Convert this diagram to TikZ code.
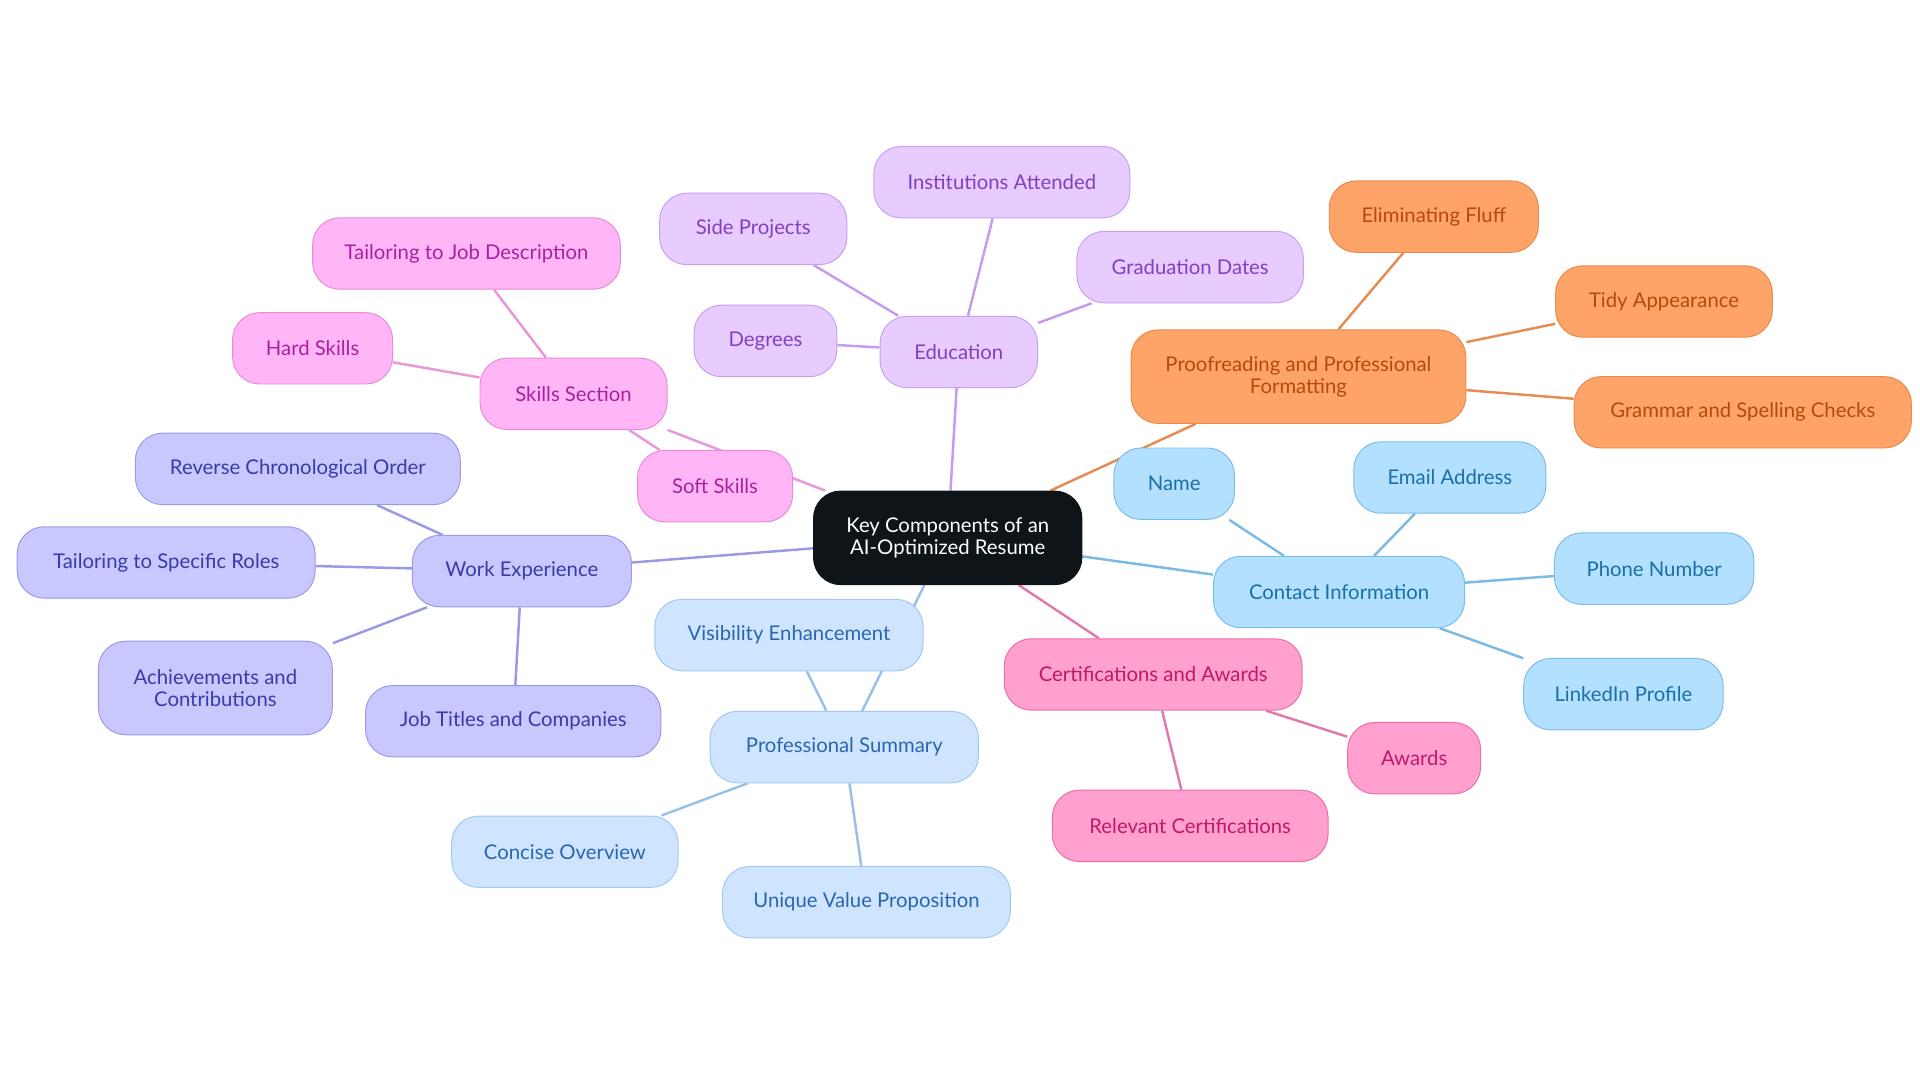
\documentclass[tikz,border=0pt]{standalone}
\usepackage{fontspec}
\setmainfont{Lato}
\usetikzlibrary{backgrounds}
\definecolor{ctrF}{HTML}{0F1419}
\definecolor{orF}{HTML}{FFA469}\definecolor{orD}{HTML}{E88A4A}\definecolor{orT}{HTML}{B44A0C}\definecolor{orL}{HTML}{E48C52}
\definecolor{cbF}{HTML}{B3E0FF}\definecolor{cbD}{HTML}{7CBDE8}\definecolor{cbT}{HTML}{1A6FA8}\definecolor{cbL}{HTML}{7ABAE4}
\definecolor{pbF}{HTML}{CFE5FF}\definecolor{pbD}{HTML}{A2C8F0}\definecolor{pbT}{HTML}{2A66B0}\definecolor{pbL}{HTML}{98C0E8}
\definecolor{pkF}{HTML}{FFA0CF}\definecolor{pkD}{HTML}{E870A8}\definecolor{pkT}{HTML}{C0186A}\definecolor{pkL}{HTML}{E07AAE}
\definecolor{mgF}{HTML}{FFB5F6}\definecolor{mgD}{HTML}{E88AD8}\definecolor{mgT}{HTML}{A822A0}\definecolor{mgL}{HTML}{E898D8}
\definecolor{puF}{HTML}{E9CCFF}\definecolor{puD}{HTML}{C8A0F0}\definecolor{puT}{HTML}{8040C0}\definecolor{puL}{HTML}{C49CEC}
\definecolor{inF}{HTML}{C8C8FF}\definecolor{inD}{HTML}{9A9AE8}\definecolor{inT}{HTML}{3A3AA8}\definecolor{inL}{HTML}{9A9AE4}
\tikzset{
 x=1pt,y=-1pt,
 bx/.style={rounded corners=22pt,minimum height=58pt,inner xsep=4pt,font=\fontsize{16.5}{18}\selectfont,align=center,line width=0.8pt},
 ctr/.style={bx,fill=ctrF,draw=ctrF,text=white,minimum height=76pt},
 orbox/.style={bx,fill=orF,draw=orD,text=orT},
 cbbox/.style={bx,fill=cbF,draw=cbD,text=cbT},
 pbbox/.style={bx,fill=pbF,draw=pbD,text=pbT},
 pkbox/.style={bx,fill=pkF,draw=pkD,text=pkT},
 mgbox/.style={bx,fill=mgF,draw=mgD,text=mgT},
 pubox/.style={bx,fill=puF,draw=puD,text=puT},
 inbox/.style={bx,fill=inF,draw=inD,text=inT},
 ln/.style={line width=2pt}
}
\begin{document}
\begin{tikzpicture}
\useasboundingbox (0,0) rectangle (1560,880);
\node[ctr,minimum width=218pt] (c) at (770,437) {Key Components of an\\AI-Optimized Resume};
\node[inbox,minimum width=178pt] (we) at (424,464) {Work Experience};
\node[inbox,minimum width=264pt] (rc) at (242,381) {Reverse Chronological Order};
\node[inbox,minimum width=242pt] (ts) at (135,457) {Tailoring to Specific Roles};
\node[inbox,minimum width=190pt,minimum height=76pt] (ac) at (175,559) {Achievements and\\Contributions};
\node[inbox,minimum width=240pt] (jt) at (417,586) {Job Titles and Companies};
\node[mgbox,minimum width=152pt] (ss) at (466,320) {Skills Section};
\node[mgbox,minimum width=250pt] (tj) at (379,206) {Tailoring to Job Description};
\node[mgbox,minimum width=130pt] (hs) at (254,283) {Hard Skills};
\node[mgbox,minimum width=126pt] (so) at (581,395) {Soft Skills};
\node[pubox,minimum width=128pt] (ed) at (779,286) {Education};
\node[pubox,minimum width=208pt] (ia) at (814,148) {Institutions Attended};
\node[pubox,minimum width=152pt] (sp) at (612,186) {Side Projects};
\node[pubox,minimum width=184pt] (gd) at (967,217) {Graduation Dates};
\node[pubox,minimum width=116pt] (dg) at (622,277) {Degrees};
\node[orbox,minimum width=272pt,minimum height=76pt] (pf) at (1055,306) {Proofreading and Professional\\Formatting};
\node[orbox,minimum width=170pt] (ef) at (1165,176) {Eliminating Fluff};
\node[orbox,minimum width=176pt] (ta) at (1352,245) {Tidy Appearance};
\node[orbox,minimum width=274pt] (gs) at (1416,335) {Grammar and Spelling Checks};
\node[cbbox,minimum width=204pt] (ci) at (1088,481) {Contact Information};
\node[cbbox,minimum width=98pt] (nm) at (954,393) {Name};
\node[cbbox,minimum width=156pt] (ea) at (1178,388) {Email Address};
\node[cbbox,minimum width=162pt] (pn) at (1344,462) {Phone Number};
\node[cbbox,minimum width=162pt] (li) at (1319,564) {LinkedIn Profile};
\node[pkbox,minimum width=242pt] (ca) at (937,548) {Certifications and Awards};
\node[pkbox,minimum width=108pt] (aw) at (1149,616) {Awards};
\node[pkbox,minimum width=224pt] (rcf) at (967,671) {Relevant Certifications};
\node[pbbox,minimum width=218pt] (ps) at (686,607) {Professional Summary};
\node[pbbox,minimum width=218pt] (ve) at (641,516) {Visibility Enhancement};
\node[pbbox,minimum width=184pt] (co) at (459,692) {Concise Overview};
\node[pbbox,minimum width=234pt] (uv) at (704,733) {Unique Value Proposition};
\begin{pgfonlayer}{background}
\draw[ln,inL] (c)--(we) (we)--(rc) (we)--(ts) (we)--(ac) (we)--(jt);
\draw[ln,mgL] (c)--(ss) (ss)--(tj) (ss)--(hs) (ss)--(so);
\draw[ln,puL] (c)--(ed) (ed)--(ia) (ed)--(sp) (ed)--(gd) (ed)--(dg);
\draw[ln,orL] (c)--(pf) (pf)--(ef) (pf)--(ta) (pf)--(gs);
\draw[ln,cbL] (c)--(ci) (ci)--(nm) (ci)--(ea) (ci)--(pn) (ci)--(li);
\draw[ln,pkL] (c)--(ca) (ca)--(aw) (ca)--(rcf);
\draw[ln,pbL] (c)--(ps) (ps)--(ve) (ps)--(co) (ps)--(uv);
\end{pgfonlayer}
\end{tikzpicture}
\end{document}
